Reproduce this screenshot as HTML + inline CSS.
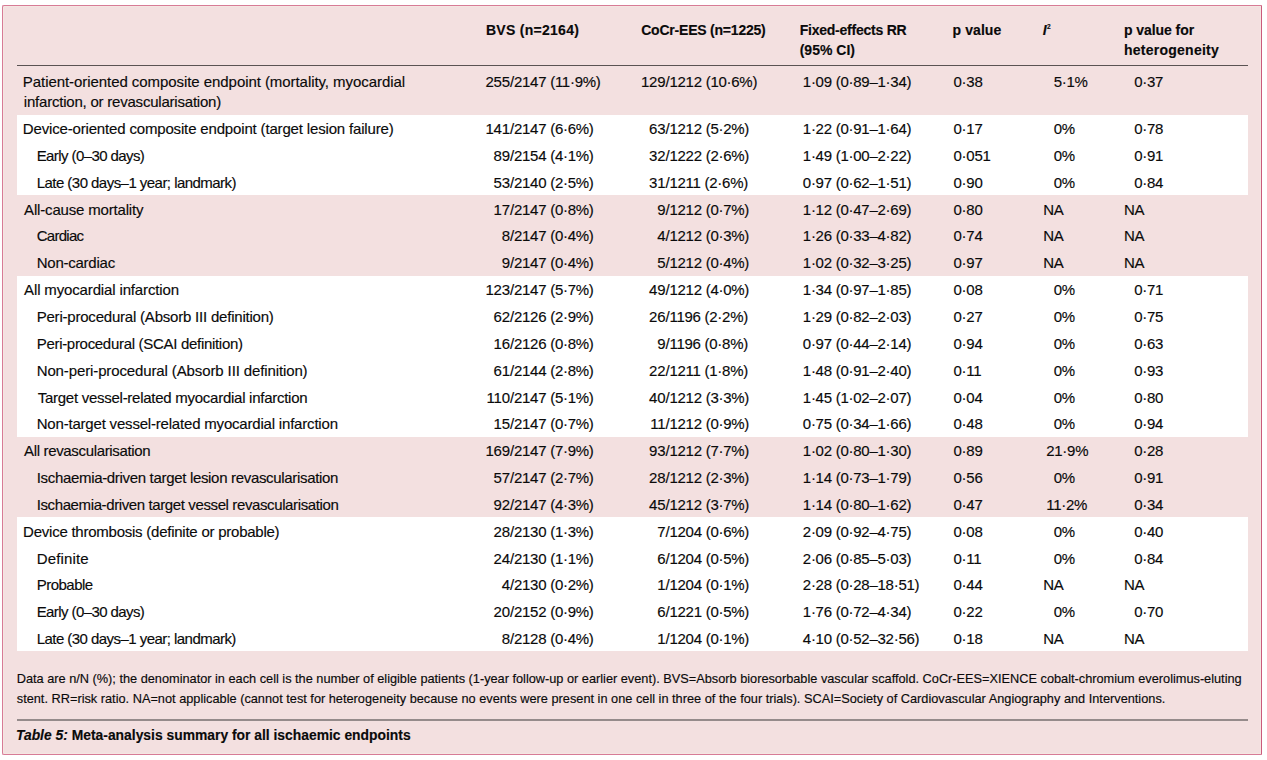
<!DOCTYPE html>
<html><head><meta charset="utf-8"><style>
html,body{margin:0;padding:0;background:#fff;width:1267px;height:760px;overflow:hidden}
.box{position:absolute;left:2px;top:5px;width:1260px;height:750px;box-sizing:border-box;border:1px solid #d77b96;border-right-color:#cb5a7c;border-radius:2px 0 0 2px;background:#f3e0e0;box-shadow:inset 1px 1px 0 #f5e6e2, inset -1px -1px 0 #f5e6e2}
.band{position:absolute;left:17px;width:1231px;background:#fff}
.hl{position:absolute;left:17px;width:1231px;top:65px;height:1px;background:#5a5353}
.sep{position:absolute;left:17px;width:1231px;top:719px;height:2px;background:#958b8b}
.t{position:absolute;white-space:pre;font-family:"Liberation Sans",sans-serif;line-height:20px;color:#0a0a0a;-webkit-text-stroke:0.15px #0a0a0a}
.b{font-weight:bold}
sup{font-size:6.5px;vertical-align:top;position:relative;top:-3px;margin-left:0.5px}
</style></head><body>
<div class="box"></div>
<div class="band" style="top:115.00px;height:80.40px"></div><div class="band" style="top:275.80px;height:160.80px"></div><div class="band" style="top:517.00px;height:134.00px"></div>
<div class="hl"></div>
<div class="sep"></div>
<div id="e0" class="t " style="left:22.80px;top:71.60px;font-size:15px;letter-spacing:-0.061px">Patient-oriented composite endpoint (mortality, myocardial</div>
<div id="e1" class="t " style="left:23.80px;top:91.70px;font-size:15px;letter-spacing:-0.214px">infarction, or revascularisation)</div>
<div id="e2" class="t " style="right:757.26px;top:71.60px;font-size:15px;letter-spacing:-0.260px">255</div>
<div id="e3" class="t " style="left:510.00px;top:71.60px;font-size:15px;letter-spacing:-0.260px">/2147 (11·9%)</div>
<div id="e4" class="t " style="right:601.76px;top:71.60px;font-size:15px;letter-spacing:-0.260px">129</div>
<div id="e5" class="t " style="left:665.50px;top:71.60px;font-size:15px;letter-spacing:-0.260px">/1212 (10·6%)</div>
<div id="e6" class="t " style="left:802.80px;top:71.60px;font-size:15px;letter-spacing:-0.260px">1·09 (0·89–1·34)</div>
<div id="e7" class="t " style="left:953.50px;top:71.60px;font-size:15px;letter-spacing:-0.260px">0·38</div>
<div id="e8" class="t " style="left:1053.70px;top:71.60px;font-size:15px;letter-spacing:-0.260px">5·1%</div>
<div id="e9" class="t " style="left:1134.20px;top:71.60px;font-size:15px;letter-spacing:-0.260px">0·37</div>
<div id="e10" class="t " style="left:22.80px;top:119.00px;font-size:15px;letter-spacing:-0.163px">Device-oriented composite endpoint (target lesion failure)</div>
<div id="e11" class="t " style="right:757.26px;top:119.00px;font-size:15px;letter-spacing:-0.260px">141</div>
<div id="e12" class="t " style="left:510.00px;top:119.00px;font-size:15px;letter-spacing:-0.260px">/2147 (6·6%)</div>
<div id="e13" class="t " style="right:601.76px;top:119.00px;font-size:15px;letter-spacing:-0.260px">63</div>
<div id="e14" class="t " style="left:665.50px;top:119.00px;font-size:15px;letter-spacing:-0.260px">/1212 (5·2%)</div>
<div id="e15" class="t " style="left:802.80px;top:119.00px;font-size:15px;letter-spacing:-0.260px">1·22 (0·91–1·64)</div>
<div id="e16" class="t " style="left:953.50px;top:119.00px;font-size:15px;letter-spacing:-0.260px">0·17</div>
<div id="e17" class="t " style="left:1053.70px;top:119.00px;font-size:15px;letter-spacing:-0.260px">0%</div>
<div id="e18" class="t " style="left:1134.20px;top:119.00px;font-size:15px;letter-spacing:-0.260px">0·78</div>
<div id="e19" class="t " style="left:36.70px;top:145.85px;font-size:15px;letter-spacing:-0.589px">Early (0–30 days)</div>
<div id="e20" class="t " style="right:757.26px;top:145.85px;font-size:15px;letter-spacing:-0.260px">89</div>
<div id="e21" class="t " style="left:510.00px;top:145.85px;font-size:15px;letter-spacing:-0.260px">/2154 (4·1%)</div>
<div id="e22" class="t " style="right:601.76px;top:145.85px;font-size:15px;letter-spacing:-0.260px">32</div>
<div id="e23" class="t " style="left:665.50px;top:145.85px;font-size:15px;letter-spacing:-0.260px">/1222 (2·6%)</div>
<div id="e24" class="t " style="left:802.80px;top:145.85px;font-size:15px;letter-spacing:-0.260px">1·49 (1·00–2·22)</div>
<div id="e25" class="t " style="left:953.50px;top:145.85px;font-size:15px;letter-spacing:-0.260px">0·051</div>
<div id="e26" class="t " style="left:1053.70px;top:145.85px;font-size:15px;letter-spacing:-0.260px">0%</div>
<div id="e27" class="t " style="left:1134.20px;top:145.85px;font-size:15px;letter-spacing:-0.260px">0·91</div>
<div id="e28" class="t " style="left:36.70px;top:172.70px;font-size:15px;letter-spacing:-0.537px">Late (30 days–1 year; landmark)</div>
<div id="e29" class="t " style="right:757.26px;top:172.70px;font-size:15px;letter-spacing:-0.260px">53</div>
<div id="e30" class="t " style="left:510.00px;top:172.70px;font-size:15px;letter-spacing:-0.260px">/2140 (2·5%)</div>
<div id="e31" class="t " style="right:601.76px;top:172.70px;font-size:15px;letter-spacing:-0.260px">31</div>
<div id="e32" class="t " style="left:665.50px;top:172.70px;font-size:15px;letter-spacing:-0.260px">/1211 (2·6%)</div>
<div id="e33" class="t " style="left:802.80px;top:172.70px;font-size:15px;letter-spacing:-0.260px">0·97 (0·62–1·51)</div>
<div id="e34" class="t " style="left:953.50px;top:172.70px;font-size:15px;letter-spacing:-0.260px">0·90</div>
<div id="e35" class="t " style="left:1053.70px;top:172.70px;font-size:15px;letter-spacing:-0.260px">0%</div>
<div id="e36" class="t " style="left:1134.20px;top:172.70px;font-size:15px;letter-spacing:-0.260px">0·84</div>
<div id="e37" class="t " style="left:24.10px;top:199.55px;font-size:15px;letter-spacing:-0.176px">All-cause mortality</div>
<div id="e38" class="t " style="right:757.26px;top:199.55px;font-size:15px;letter-spacing:-0.260px">17</div>
<div id="e39" class="t " style="left:510.00px;top:199.55px;font-size:15px;letter-spacing:-0.260px">/2147 (0·8%)</div>
<div id="e40" class="t " style="right:601.76px;top:199.55px;font-size:15px;letter-spacing:-0.260px">9</div>
<div id="e41" class="t " style="left:665.50px;top:199.55px;font-size:15px;letter-spacing:-0.260px">/1212 (0·7%)</div>
<div id="e42" class="t " style="left:802.80px;top:199.55px;font-size:15px;letter-spacing:-0.260px">1·12 (0·47–2·69)</div>
<div id="e43" class="t " style="left:953.50px;top:199.55px;font-size:15px;letter-spacing:-0.260px">0·80</div>
<div id="e44" class="t " style="left:1043.30px;top:199.55px;font-size:15px;letter-spacing:-0.260px">NA</div>
<div id="e45" class="t " style="left:1124.00px;top:199.55px;font-size:15px;letter-spacing:-0.260px">NA</div>
<div id="e46" class="t " style="left:36.70px;top:226.40px;font-size:15px;letter-spacing:-0.720px">Cardiac</div>
<div id="e47" class="t " style="right:757.26px;top:226.40px;font-size:15px;letter-spacing:-0.260px">8</div>
<div id="e48" class="t " style="left:510.00px;top:226.40px;font-size:15px;letter-spacing:-0.260px">/2147 (0·4%)</div>
<div id="e49" class="t " style="right:601.76px;top:226.40px;font-size:15px;letter-spacing:-0.260px">4</div>
<div id="e50" class="t " style="left:665.50px;top:226.40px;font-size:15px;letter-spacing:-0.260px">/1212 (0·3%)</div>
<div id="e51" class="t " style="left:802.80px;top:226.40px;font-size:15px;letter-spacing:-0.260px">1·26 (0·33–4·82)</div>
<div id="e52" class="t " style="left:953.50px;top:226.40px;font-size:15px;letter-spacing:-0.260px">0·74</div>
<div id="e53" class="t " style="left:1043.30px;top:226.40px;font-size:15px;letter-spacing:-0.260px">NA</div>
<div id="e54" class="t " style="left:1124.00px;top:226.40px;font-size:15px;letter-spacing:-0.260px">NA</div>
<div id="e55" class="t " style="left:36.70px;top:253.25px;font-size:15px;letter-spacing:-0.240px">Non-cardiac</div>
<div id="e56" class="t " style="right:757.26px;top:253.25px;font-size:15px;letter-spacing:-0.260px">9</div>
<div id="e57" class="t " style="left:510.00px;top:253.25px;font-size:15px;letter-spacing:-0.260px">/2147 (0·4%)</div>
<div id="e58" class="t " style="right:601.76px;top:253.25px;font-size:15px;letter-spacing:-0.260px">5</div>
<div id="e59" class="t " style="left:665.50px;top:253.25px;font-size:15px;letter-spacing:-0.260px">/1212 (0·4%)</div>
<div id="e60" class="t " style="left:802.80px;top:253.25px;font-size:15px;letter-spacing:-0.260px">1·02 (0·32–3·25)</div>
<div id="e61" class="t " style="left:953.50px;top:253.25px;font-size:15px;letter-spacing:-0.260px">0·97</div>
<div id="e62" class="t " style="left:1043.30px;top:253.25px;font-size:15px;letter-spacing:-0.260px">NA</div>
<div id="e63" class="t " style="left:1124.00px;top:253.25px;font-size:15px;letter-spacing:-0.260px">NA</div>
<div id="e64" class="t " style="left:24.10px;top:280.10px;font-size:15px;letter-spacing:-0.145px">All myocardial infarction</div>
<div id="e65" class="t " style="right:757.26px;top:280.10px;font-size:15px;letter-spacing:-0.260px">123</div>
<div id="e66" class="t " style="left:510.00px;top:280.10px;font-size:15px;letter-spacing:-0.260px">/2147 (5·7%)</div>
<div id="e67" class="t " style="right:601.76px;top:280.10px;font-size:15px;letter-spacing:-0.260px">49</div>
<div id="e68" class="t " style="left:665.50px;top:280.10px;font-size:15px;letter-spacing:-0.260px">/1212 (4·0%)</div>
<div id="e69" class="t " style="left:802.80px;top:280.10px;font-size:15px;letter-spacing:-0.260px">1·34 (0·97–1·85)</div>
<div id="e70" class="t " style="left:953.50px;top:280.10px;font-size:15px;letter-spacing:-0.260px">0·08</div>
<div id="e71" class="t " style="left:1053.70px;top:280.10px;font-size:15px;letter-spacing:-0.260px">0%</div>
<div id="e72" class="t " style="left:1134.20px;top:280.10px;font-size:15px;letter-spacing:-0.260px">0·71</div>
<div id="e73" class="t " style="left:36.70px;top:306.95px;font-size:15px;letter-spacing:-0.209px">Peri-procedural (Absorb III definition)</div>
<div id="e74" class="t " style="right:757.26px;top:306.95px;font-size:15px;letter-spacing:-0.260px">62</div>
<div id="e75" class="t " style="left:510.00px;top:306.95px;font-size:15px;letter-spacing:-0.260px">/2126 (2·9%)</div>
<div id="e76" class="t " style="right:601.76px;top:306.95px;font-size:15px;letter-spacing:-0.260px">26</div>
<div id="e77" class="t " style="left:665.50px;top:306.95px;font-size:15px;letter-spacing:-0.260px">/1196 (2·2%)</div>
<div id="e78" class="t " style="left:802.80px;top:306.95px;font-size:15px;letter-spacing:-0.260px">1·29 (0·82–2·03)</div>
<div id="e79" class="t " style="left:953.50px;top:306.95px;font-size:15px;letter-spacing:-0.260px">0·27</div>
<div id="e80" class="t " style="left:1053.70px;top:306.95px;font-size:15px;letter-spacing:-0.260px">0%</div>
<div id="e81" class="t " style="left:1134.20px;top:306.95px;font-size:15px;letter-spacing:-0.260px">0·75</div>
<div id="e82" class="t " style="left:36.70px;top:333.80px;font-size:15px;letter-spacing:-0.301px">Peri-procedural (SCAI definition)</div>
<div id="e83" class="t " style="right:757.26px;top:333.80px;font-size:15px;letter-spacing:-0.260px">16</div>
<div id="e84" class="t " style="left:510.00px;top:333.80px;font-size:15px;letter-spacing:-0.260px">/2126 (0·8%)</div>
<div id="e85" class="t " style="right:601.76px;top:333.80px;font-size:15px;letter-spacing:-0.260px">9</div>
<div id="e86" class="t " style="left:665.50px;top:333.80px;font-size:15px;letter-spacing:-0.260px">/1196 (0·8%)</div>
<div id="e87" class="t " style="left:802.80px;top:333.80px;font-size:15px;letter-spacing:-0.260px">0·97 (0·44–2·14)</div>
<div id="e88" class="t " style="left:953.50px;top:333.80px;font-size:15px;letter-spacing:-0.260px">0·94</div>
<div id="e89" class="t " style="left:1053.70px;top:333.80px;font-size:15px;letter-spacing:-0.260px">0%</div>
<div id="e90" class="t " style="left:1134.20px;top:333.80px;font-size:15px;letter-spacing:-0.260px">0·63</div>
<div id="e91" class="t " style="left:36.70px;top:360.65px;font-size:15px;letter-spacing:-0.120px">Non-peri-procedural (Absorb III definition)</div>
<div id="e92" class="t " style="right:757.26px;top:360.65px;font-size:15px;letter-spacing:-0.260px">61</div>
<div id="e93" class="t " style="left:510.00px;top:360.65px;font-size:15px;letter-spacing:-0.260px">/2144 (2·8%)</div>
<div id="e94" class="t " style="right:601.76px;top:360.65px;font-size:15px;letter-spacing:-0.260px">22</div>
<div id="e95" class="t " style="left:665.50px;top:360.65px;font-size:15px;letter-spacing:-0.260px">/1211 (1·8%)</div>
<div id="e96" class="t " style="left:802.80px;top:360.65px;font-size:15px;letter-spacing:-0.260px">1·48 (0·91–2·40)</div>
<div id="e97" class="t " style="left:953.50px;top:360.65px;font-size:15px;letter-spacing:-0.260px">0·11</div>
<div id="e98" class="t " style="left:1053.70px;top:360.65px;font-size:15px;letter-spacing:-0.260px">0%</div>
<div id="e99" class="t " style="left:1134.20px;top:360.65px;font-size:15px;letter-spacing:-0.260px">0·93</div>
<div id="e100" class="t " style="left:37.70px;top:387.50px;font-size:15px;letter-spacing:-0.263px">Target vessel-related myocardial infarction</div>
<div id="e101" class="t " style="right:757.26px;top:387.50px;font-size:15px;letter-spacing:-0.260px">110</div>
<div id="e102" class="t " style="left:510.00px;top:387.50px;font-size:15px;letter-spacing:-0.260px">/2147 (5·1%)</div>
<div id="e103" class="t " style="right:601.76px;top:387.50px;font-size:15px;letter-spacing:-0.260px">40</div>
<div id="e104" class="t " style="left:665.50px;top:387.50px;font-size:15px;letter-spacing:-0.260px">/1212 (3·3%)</div>
<div id="e105" class="t " style="left:802.80px;top:387.50px;font-size:15px;letter-spacing:-0.260px">1·45 (1·02–2·07)</div>
<div id="e106" class="t " style="left:953.50px;top:387.50px;font-size:15px;letter-spacing:-0.260px">0·04</div>
<div id="e107" class="t " style="left:1053.70px;top:387.50px;font-size:15px;letter-spacing:-0.260px">0%</div>
<div id="e108" class="t " style="left:1134.20px;top:387.50px;font-size:15px;letter-spacing:-0.260px">0·80</div>
<div id="e109" class="t " style="left:36.70px;top:414.35px;font-size:15px;letter-spacing:-0.192px">Non-target vessel-related myocardial infarction</div>
<div id="e110" class="t " style="right:757.26px;top:414.35px;font-size:15px;letter-spacing:-0.260px">15</div>
<div id="e111" class="t " style="left:510.00px;top:414.35px;font-size:15px;letter-spacing:-0.260px">/2147 (0·7%)</div>
<div id="e112" class="t " style="right:601.76px;top:414.35px;font-size:15px;letter-spacing:-0.260px">11</div>
<div id="e113" class="t " style="left:665.50px;top:414.35px;font-size:15px;letter-spacing:-0.260px">/1212 (0·9%)</div>
<div id="e114" class="t " style="left:802.80px;top:414.35px;font-size:15px;letter-spacing:-0.260px">0·75 (0·34–1·66)</div>
<div id="e115" class="t " style="left:953.50px;top:414.35px;font-size:15px;letter-spacing:-0.260px">0·48</div>
<div id="e116" class="t " style="left:1053.70px;top:414.35px;font-size:15px;letter-spacing:-0.260px">0%</div>
<div id="e117" class="t " style="left:1134.20px;top:414.35px;font-size:15px;letter-spacing:-0.260px">0·94</div>
<div id="e118" class="t " style="left:24.10px;top:441.20px;font-size:15px;letter-spacing:-0.345px">All revascularisation</div>
<div id="e119" class="t " style="right:757.26px;top:441.20px;font-size:15px;letter-spacing:-0.260px">169</div>
<div id="e120" class="t " style="left:510.00px;top:441.20px;font-size:15px;letter-spacing:-0.260px">/2147 (7·9%)</div>
<div id="e121" class="t " style="right:601.76px;top:441.20px;font-size:15px;letter-spacing:-0.260px">93</div>
<div id="e122" class="t " style="left:665.50px;top:441.20px;font-size:15px;letter-spacing:-0.260px">/1212 (7·7%)</div>
<div id="e123" class="t " style="left:802.80px;top:441.20px;font-size:15px;letter-spacing:-0.260px">1·02 (0·80–1·30)</div>
<div id="e124" class="t " style="left:953.50px;top:441.20px;font-size:15px;letter-spacing:-0.260px">0·89</div>
<div id="e125" class="t " style="left:1046.20px;top:441.20px;font-size:15px;letter-spacing:-0.260px">21·9%</div>
<div id="e126" class="t " style="left:1134.20px;top:441.20px;font-size:15px;letter-spacing:-0.260px">0·28</div>
<div id="e127" class="t " style="left:36.70px;top:468.05px;font-size:15px;letter-spacing:-0.321px">Ischaemia-driven target lesion revascularisation</div>
<div id="e128" class="t " style="right:757.26px;top:468.05px;font-size:15px;letter-spacing:-0.260px">57</div>
<div id="e129" class="t " style="left:510.00px;top:468.05px;font-size:15px;letter-spacing:-0.260px">/2147 (2·7%)</div>
<div id="e130" class="t " style="right:601.76px;top:468.05px;font-size:15px;letter-spacing:-0.260px">28</div>
<div id="e131" class="t " style="left:665.50px;top:468.05px;font-size:15px;letter-spacing:-0.260px">/1212 (2·3%)</div>
<div id="e132" class="t " style="left:802.80px;top:468.05px;font-size:15px;letter-spacing:-0.260px">1·14 (0·73–1·79)</div>
<div id="e133" class="t " style="left:953.50px;top:468.05px;font-size:15px;letter-spacing:-0.260px">0·56</div>
<div id="e134" class="t " style="left:1053.70px;top:468.05px;font-size:15px;letter-spacing:-0.260px">0%</div>
<div id="e135" class="t " style="left:1134.20px;top:468.05px;font-size:15px;letter-spacing:-0.260px">0·91</div>
<div id="e136" class="t " style="left:36.70px;top:494.90px;font-size:15px;letter-spacing:-0.385px">Ischaemia-driven target vessel revascularisation</div>
<div id="e137" class="t " style="right:757.26px;top:494.90px;font-size:15px;letter-spacing:-0.260px">92</div>
<div id="e138" class="t " style="left:510.00px;top:494.90px;font-size:15px;letter-spacing:-0.260px">/2147 (4·3%)</div>
<div id="e139" class="t " style="right:601.76px;top:494.90px;font-size:15px;letter-spacing:-0.260px">45</div>
<div id="e140" class="t " style="left:665.50px;top:494.90px;font-size:15px;letter-spacing:-0.260px">/1212 (3·7%)</div>
<div id="e141" class="t " style="left:802.80px;top:494.90px;font-size:15px;letter-spacing:-0.260px">1·14 (0·80–1·62)</div>
<div id="e142" class="t " style="left:953.50px;top:494.90px;font-size:15px;letter-spacing:-0.260px">0·47</div>
<div id="e143" class="t " style="left:1046.20px;top:494.90px;font-size:15px;letter-spacing:-0.260px">11·2%</div>
<div id="e144" class="t " style="left:1134.20px;top:494.90px;font-size:15px;letter-spacing:-0.260px">0·34</div>
<div id="e145" class="t " style="left:23.10px;top:521.75px;font-size:15px;letter-spacing:-0.242px">Device thrombosis (definite or probable)</div>
<div id="e146" class="t " style="right:757.26px;top:521.75px;font-size:15px;letter-spacing:-0.260px">28</div>
<div id="e147" class="t " style="left:510.00px;top:521.75px;font-size:15px;letter-spacing:-0.260px">/2130 (1·3%)</div>
<div id="e148" class="t " style="right:601.76px;top:521.75px;font-size:15px;letter-spacing:-0.260px">7</div>
<div id="e149" class="t " style="left:665.50px;top:521.75px;font-size:15px;letter-spacing:-0.260px">/1204 (0·6%)</div>
<div id="e150" class="t " style="left:802.80px;top:521.75px;font-size:15px;letter-spacing:-0.260px">2·09 (0·92–4·75)</div>
<div id="e151" class="t " style="left:953.50px;top:521.75px;font-size:15px;letter-spacing:-0.260px">0·08</div>
<div id="e152" class="t " style="left:1053.70px;top:521.75px;font-size:15px;letter-spacing:-0.260px">0%</div>
<div id="e153" class="t " style="left:1134.20px;top:521.75px;font-size:15px;letter-spacing:-0.260px">0·40</div>
<div id="e154" class="t " style="left:36.70px;top:548.60px;font-size:15px;letter-spacing:0.159px">Definite</div>
<div id="e155" class="t " style="right:757.26px;top:548.60px;font-size:15px;letter-spacing:-0.260px">24</div>
<div id="e156" class="t " style="left:510.00px;top:548.60px;font-size:15px;letter-spacing:-0.260px">/2130 (1·1%)</div>
<div id="e157" class="t " style="right:601.76px;top:548.60px;font-size:15px;letter-spacing:-0.260px">6</div>
<div id="e158" class="t " style="left:665.50px;top:548.60px;font-size:15px;letter-spacing:-0.260px">/1204 (0·5%)</div>
<div id="e159" class="t " style="left:802.80px;top:548.60px;font-size:15px;letter-spacing:-0.260px">2·06 (0·85–5·03)</div>
<div id="e160" class="t " style="left:953.50px;top:548.60px;font-size:15px;letter-spacing:-0.260px">0·11</div>
<div id="e161" class="t " style="left:1053.70px;top:548.60px;font-size:15px;letter-spacing:-0.260px">0%</div>
<div id="e162" class="t " style="left:1134.20px;top:548.60px;font-size:15px;letter-spacing:-0.260px">0·84</div>
<div id="e163" class="t " style="left:36.70px;top:575.45px;font-size:15px;letter-spacing:-0.513px">Probable</div>
<div id="e164" class="t " style="right:757.26px;top:575.45px;font-size:15px;letter-spacing:-0.260px">4</div>
<div id="e165" class="t " style="left:510.00px;top:575.45px;font-size:15px;letter-spacing:-0.260px">/2130 (0·2%)</div>
<div id="e166" class="t " style="right:601.76px;top:575.45px;font-size:15px;letter-spacing:-0.260px">1</div>
<div id="e167" class="t " style="left:665.50px;top:575.45px;font-size:15px;letter-spacing:-0.260px">/1204 (0·1%)</div>
<div id="e168" class="t " style="left:802.80px;top:575.45px;font-size:15px;letter-spacing:-0.260px">2·28 (0·28–18·51)</div>
<div id="e169" class="t " style="left:953.50px;top:575.45px;font-size:15px;letter-spacing:-0.260px">0·44</div>
<div id="e170" class="t " style="left:1043.30px;top:575.45px;font-size:15px;letter-spacing:-0.260px">NA</div>
<div id="e171" class="t " style="left:1124.00px;top:575.45px;font-size:15px;letter-spacing:-0.260px">NA</div>
<div id="e172" class="t " style="left:36.70px;top:602.30px;font-size:15px;letter-spacing:-0.589px">Early (0–30 days)</div>
<div id="e173" class="t " style="right:757.26px;top:602.30px;font-size:15px;letter-spacing:-0.260px">20</div>
<div id="e174" class="t " style="left:510.00px;top:602.30px;font-size:15px;letter-spacing:-0.260px">/2152 (0·9%)</div>
<div id="e175" class="t " style="right:601.76px;top:602.30px;font-size:15px;letter-spacing:-0.260px">6</div>
<div id="e176" class="t " style="left:665.50px;top:602.30px;font-size:15px;letter-spacing:-0.260px">/1221 (0·5%)</div>
<div id="e177" class="t " style="left:802.80px;top:602.30px;font-size:15px;letter-spacing:-0.260px">1·76 (0·72–4·34)</div>
<div id="e178" class="t " style="left:953.50px;top:602.30px;font-size:15px;letter-spacing:-0.260px">0·22</div>
<div id="e179" class="t " style="left:1053.70px;top:602.30px;font-size:15px;letter-spacing:-0.260px">0%</div>
<div id="e180" class="t " style="left:1134.20px;top:602.30px;font-size:15px;letter-spacing:-0.260px">0·70</div>
<div id="e181" class="t " style="left:36.70px;top:629.15px;font-size:15px;letter-spacing:-0.543px">Late (30 days–1 year; landmark)</div>
<div id="e182" class="t " style="right:757.26px;top:629.15px;font-size:15px;letter-spacing:-0.260px">8</div>
<div id="e183" class="t " style="left:510.00px;top:629.15px;font-size:15px;letter-spacing:-0.260px">/2128 (0·4%)</div>
<div id="e184" class="t " style="right:601.76px;top:629.15px;font-size:15px;letter-spacing:-0.260px">1</div>
<div id="e185" class="t " style="left:665.50px;top:629.15px;font-size:15px;letter-spacing:-0.260px">/1204 (0·1%)</div>
<div id="e186" class="t " style="left:802.80px;top:629.15px;font-size:15px;letter-spacing:-0.260px">4·10 (0·52–32·56)</div>
<div id="e187" class="t " style="left:953.50px;top:629.15px;font-size:15px;letter-spacing:-0.260px">0·18</div>
<div id="e188" class="t " style="left:1043.30px;top:629.15px;font-size:15px;letter-spacing:-0.260px">NA</div>
<div id="e189" class="t " style="left:1124.00px;top:629.15px;font-size:15px;letter-spacing:-0.260px">NA</div>
<div id="e190" class="t b" style="left:485.90px;top:19.85px;font-size:14px;letter-spacing:0.282px">BVS (n=2164)</div>
<div id="e191" class="t b" style="left:641.20px;top:19.85px;font-size:14px;letter-spacing:-0.212px">CoCr-EES (n=1225)</div>
<div id="e192" class="t b" style="left:799.70px;top:19.85px;font-size:14px;letter-spacing:-0.233px">Fixed-effects RR</div>
<div id="e193" class="t b" style="left:799.70px;top:39.95px;font-size:14px;letter-spacing:0.014px">(95% CI)</div>
<div id="e194" class="t b" style="left:952.60px;top:19.85px;font-size:14px;letter-spacing:0.067px">p value</div>
<div id="e195" class="t b" style="left:1042.70px;top:19.85px;font-size:14px"><i>I</i><sup>2</sup></div>
<div id="e196" class="t b" style="left:1123.90px;top:19.85px;font-size:14px;letter-spacing:-0.050px">p value for</div>
<div id="e197" class="t b" style="left:1123.90px;top:39.95px;font-size:14px;letter-spacing:0.258px">heterogeneity</div>
<div id="e198" class="t " style="left:16.75px;top:669.27px;font-size:12.78px;letter-spacing:-0.011px">Data are n/N (%); the denominator in each cell is the number of eligible patients (1-year follow-up or earlier event). BVS=Absorb bioresorbable vascular scaffold. CoCr-EES=XIENCE cobalt-chromium everolimus-eluting</div>
<div id="e199" class="t " style="left:16.75px;top:688.87px;font-size:12.78px;letter-spacing:-0.003px">stent. RR=risk ratio. NA=not applicable (cannot test for heterogeneity because no events were present in one cell in three of the four trials). SCAI=Society of Cardiovascular Angiography and Interventions.</div>
<div id="e200" class="t b" style="left:16.00px;top:725.39px;font-size:13.87px"><i>Table 5:</i> Meta-analysis summary for all ischaemic endpoints</div>
</body></html>
